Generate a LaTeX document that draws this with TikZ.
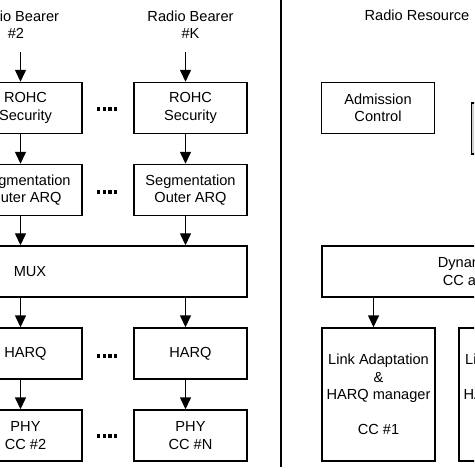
\documentclass[tikz,border=0pt]{standalone}
\usepackage{fontspec}
\setmainfont{Liberation Sans}
\usetikzlibrary{arrows.meta}

\begin{document}
\begin{tikzpicture}[
  x = 0.5pt, y = -0.5pt,
  every node/.style = {font = \fontsize{7.3}{8.7}\selectfont, align = center},
  block/.style = {draw, line width = 0.7pt, minimum width = 56.5pt, minimum height = 25.5pt, inner sep = 0pt},
  tall/.style = {block, minimum height = 66.5pt},
  arr/.style = {line width = 0.7pt, -{Triangle[length = 6pt, width = 5.5pt]}},
  ]
  \clip (0,0) rectangle (474,474);
  % user plane
  \node[anchor = south, inner ysep = 6.5pt] (bear2) at (16,52) {Radio Bearer\\\#2};
  \node[anchor = south, inner ysep = 6.5pt] (bearK) at (190.5,52) {Radio Bearer\\\#K};
  \node[block] (rohc2) at (25.5,108) {ROHC\\Security};
  \node[block] (rohcK) at (190.5,108) {ROHC\\Security};
  \node[block] (seg2) at (25.5,190) {Segmentation\\Outer ARQ};
  \node[block] (segK) at (190.5,190) {Segmentation\\Outer ARQ};
  \node[block, minimum width = 217pt] (mux) at (30,271.5) {MUX};
  \node[block] (harq2) at (25.5,353.5) {HARQ};
  \node[block] (harqK) at (190.5,353.5) {HARQ};
  \node[block] (phy2) at (25.5,435.5) {PHY\\CC \#2};
  \node[block] (phyK) at (190.5,435.5) {PHY\\CC \#N};
  \foreach \c in {2,K} {
    \draw[arr] ([xshift = -2.5pt]rohc\c.north |- bear\c.south) -- ([xshift = -2.5pt]rohc\c.north);
    \draw[arr] ([xshift = -2.5pt]rohc\c.south) -- ([xshift = -2.5pt]seg\c.north);
    \draw[arr] ([xshift = -2.5pt]seg\c.south) -- ([xshift = -2.5pt]seg\c.south |- mux.north);
    \draw[arr] ([xshift = -2.5pt]harq\c.north |- mux.south) -- ([xshift = -2.5pt]harq\c.north);
    \draw[arr] ([xshift = -2.5pt]harq\c.south) -- ([xshift = -2.5pt]phy\c.north);
  }
  \foreach \y in {109,192,356,436}
    \foreach \x in {98.5,104.25,110,115.75}
      \fill (\x-1.6,\y-1.6) rectangle ++(3.2,3.2);
  % separator
  \draw[line width = 0.7pt] (281,0) -- (281,467);
  % control plane
  \node[anchor = base] (rrm) at (417,21) {Radio Resource};
  \node[block] (adm) at (378,108) {Admission\\Control};
  \node[block, fill = gray!35] (sched) at (528,128.5) {};
  \node[block, minimum width = 139pt] (dyn) at (461,271.5) {Dynam\\CC al};
  \node[tall] (link1) at (378.5,394.5) {Link Adaptation\\\&\\HARQ manager\\[8.7pt]CC \#1};
  \node[tall] (link2) at (515.5,394.5) {Link Adaptation\\\&\\HARQ manager\\[8.7pt]\phantom{CC \#1}};
  \draw[arr] ([xshift = -2.5pt]link1.north |- dyn.south) -- ([xshift = -2.5pt]link1.north);
\end{tikzpicture}
\end{document}
